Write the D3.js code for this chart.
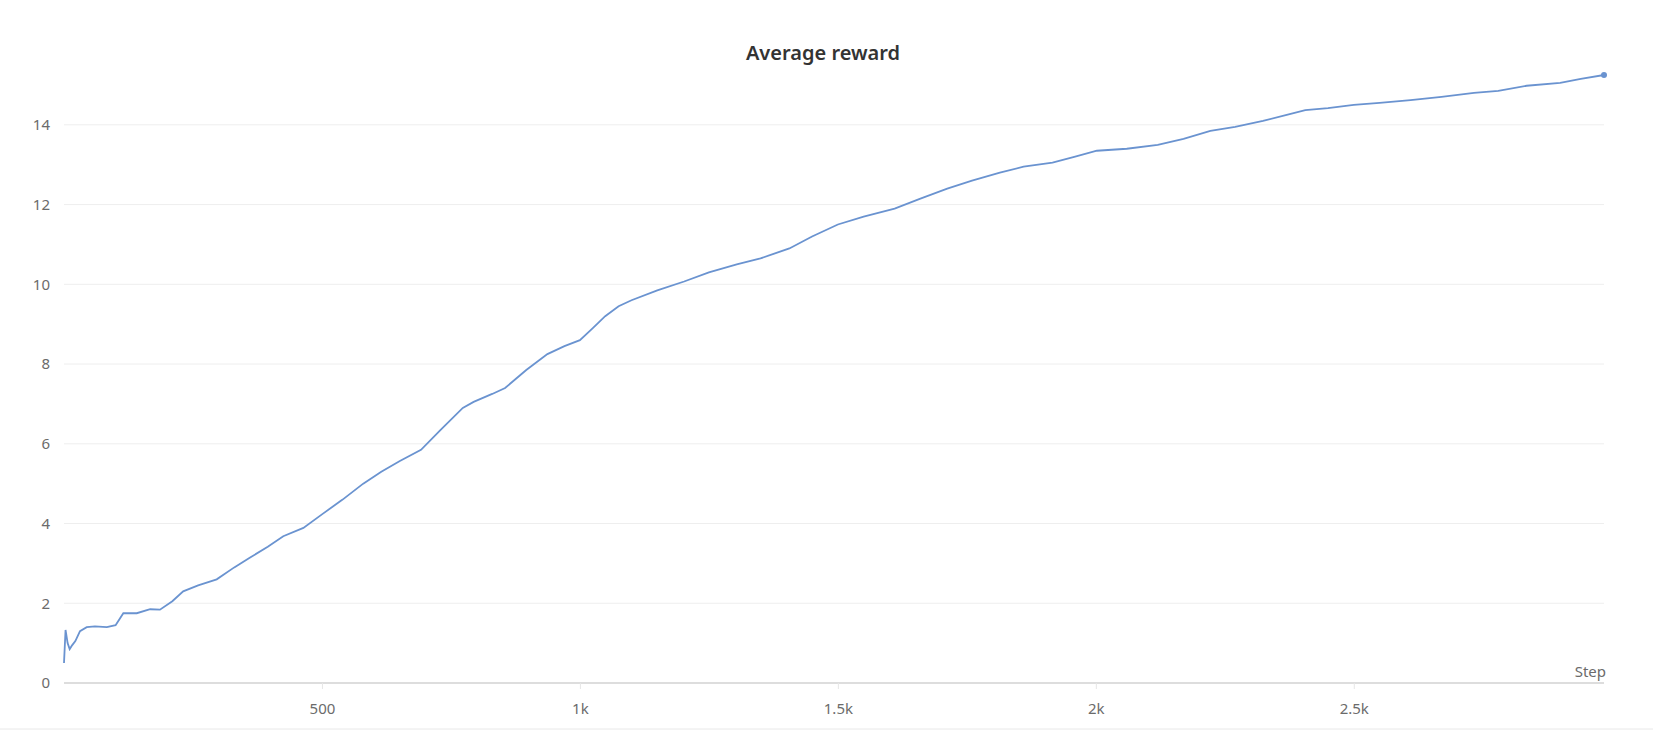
<!DOCTYPE html>
<html><head><meta charset="utf-8">
<script src="https://cdn.jsdelivr.net/npm/d3@7"></script>
<style>body{margin:0;background:#fff;font-family:"Noto Sans",sans-serif}</style>
</head><body>
<script>
var steps = [0,3,7,11,16,22,31,44,60,83,100,115,141,167,186,210,231,260,296,330,360,395,425,464,500,540,580,615,651,692,730,773,794,830,855,896,937,970,1000,1025,1049,1075,1100,1150,1202,1250,1304,1350,1406,1450,1500,1550,1610,1660,1712,1760,1814,1860,1916,1960,2002,2060,2120,2170,2222,2270,2324,2370,2406,2450,2500,2550,2610,2670,2733,2780,2835,2900,2940,2985];
var reward = [0.5,1.33,1.0,0.85,0.95,1.05,1.3,1.4,1.42,1.4,1.45,1.75,1.75,1.85,1.84,2.05,2.3,2.45,2.6,2.9,3.14,3.42,3.68,3.89,4.23,4.6,5.0,5.3,5.57,5.85,6.35,6.9,7.05,7.25,7.4,7.85,8.25,8.45,8.6,8.9,9.2,9.45,9.6,9.85,10.07,10.3,10.5,10.65,10.9,11.2,11.5,11.7,11.9,12.15,12.4,12.6,12.8,12.95,13.05,13.2,13.35,13.4,13.5,13.65,13.85,13.95,14.1,14.25,14.37,14.42,14.5,14.55,14.62,14.7,14.8,14.85,14.98,15.05,15.15,15.25];
var yTicks = [0,2,4,6,8,10,12,14];
var xTicks = [500,1000,1500,2000,2500];

var svg = d3.select("body").append("svg").attr("width",1653).attr("height",750);
var x = d3.scaleLinear().domain([0,2985]).range([64,1604]);
var y = d3.scaleLinear().domain([0,15.25]).range([683,75]);

svg.append("text").attr("x",823).attr("y",60).attr("text-anchor","middle")
  .attr("font-size",20).attr("font-weight",600).attr("fill","#333").text("Average reward");

// grid
svg.selectAll(".grid").data(yTicks.slice(1)).enter().append("line")
  .attr("x1",64).attr("x2",1604).attr("y1",d=>y(d)).attr("y2",d=>y(d))
  .attr("stroke","#eeeeee").attr("stroke-width",1);
svg.append("line").attr("x1",64).attr("x2",1604).attr("y1",y(0)).attr("y2",y(0))
  .attr("stroke","#dddddd").attr("stroke-width",2);

var yAxis = svg.append("g").attr("transform","translate(64,0)")
  .call(d3.axisLeft(y).tickValues(yTicks).tickSize(0).tickPadding(14));
var xAxis = svg.append("g").attr("transform","translate(0,"+y(0)+")")
  .call(d3.axisBottom(x).tickValues(xTicks).tickSize(6).tickPadding(14)
    .tickFormat(d=>d>=1000?(d/1000)+"k":d));
[yAxis,xAxis].forEach(function(g){
  g.select(".domain").remove();
  g.selectAll("text").attr("font-size",15).attr("fill","#6b6b6b").attr("font-family","Noto Sans");
  g.selectAll(".tick line").attr("stroke","#e6e6e6");
});
svg.append("text").attr("x",1606).attr("y",677).attr("text-anchor","end")
  .attr("font-size",15).attr("fill","#6b6b6b").text("Step");

var data = steps.map((s,i)=>[s,reward[i]]);
svg.append("path").datum(data).attr("fill","none").attr("stroke","#6a93d0").attr("stroke-width",1.8)
  .attr("d",d3.line().x(d=>x(d[0])).y(d=>y(d[1])));
var last = data[data.length-1];
svg.append("circle").attr("cx",x(last[0])).attr("cy",y(last[1])).attr("r",3).attr("fill","#6a93d0");

svg.append("line").attr("x1",0).attr("x2",1653).attr("y1",729).attr("y2",729).attr("stroke","#e8e8e8");
</script>
</body></html>
